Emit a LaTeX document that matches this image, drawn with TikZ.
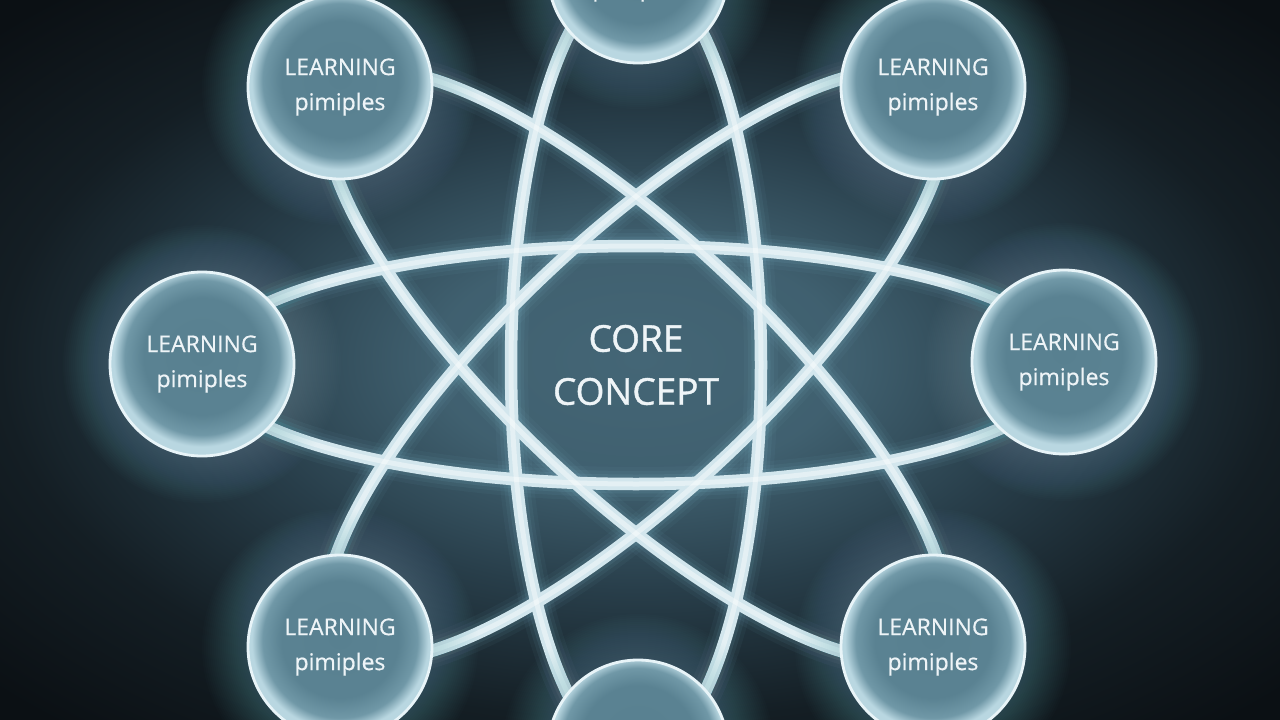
\documentclass[tikz,border=0pt]{standalone}
\usepackage{fontspec}
\setmainfont{Open Sans}
\usetikzlibrary{calc}
\definecolor{bgin}{RGB}{68,102,118}
\definecolor{bgmid}{RGB}{40,62,74}
\definecolor{bgedge}{RGB}{20,30,36}
\definecolor{bgout}{RGB}{11,16,20}
\definecolor{bandc}{RGB}{210,230,237}
\definecolor{glowc}{RGB}{130,190,210}
\definecolor{nodeA}{RGB}{88,128,144}
\definecolor{nodeB}{RGB}{112,152,167}
\definecolor{nodeC}{RGB}{185,215,225}
\definecolor{rimc}{RGB}{232,244,248}
\definecolor{textc}{RGB}{238,244,247}
\pgfdeclareradialshading{bgshade}{\pgfpoint{0bp}{0bp}}{color(0bp)=(bgin); color(8bp)=(bgin!85!bgmid); color(16bp)=(bgmid); color(25bp)=(bgedge); color(34bp)=(bgout); color(50bp)=(bgout)}
\pgfdeclareradialshading{nodeshade}{\pgfpoint{0bp}{3bp}}{color(0bp)=(nodeA); color(16bp)=(nodeA!90!nodeB); color(21bp)=(nodeB); color(24bp)=(nodeC); color(25bp)=(nodeC); color(50bp)=(nodeC)}
\tikzset{
  lnode/.style={circle, minimum size=184pt, inner sep=0pt, shading=nodeshade,
    draw=rimc, line width=2.8pt, text=textc, align=center,
    font=\fontsize{23}{35}\selectfont\addfontfeature{FakeBold=0.6}},
  bandglow/.style={draw=glowc, line width=#1},
  bandmain/.style={draw=bandc, line width=12.5pt},
  bandhi/.style={draw=white, line width=5pt, opacity=0.4}
}
\begin{document}
\begin{tikzpicture}[x=1pt,y=-1pt]
\useasboundingbox (0,0) rectangle (1280,720);
\clip (0,0) rectangle (1280,720);
\shade[shading=bgshade] (0,0) rectangle (1280,720);
\coordinate (c) at (636,365);
% orbits
\foreach \w/\o in {34pt/0.05, 26pt/0.07, 19pt/0.1}{
  \draw[bandglow=\w, opacity=\o] (c) ellipse [x radius=431pt, y radius=119pt];
  \draw[bandglow=\w, opacity=\o] (c) ellipse [x radius=125pt, y radius=392pt];
  \draw[bandglow=\w, opacity=\o] (c) circle [x radius=408pt, y radius=128pt, rotate=-43.2];
  \draw[bandglow=\w, opacity=\o] (c) circle [x radius=408pt, y radius=128pt, rotate=43.2];
}
\draw[bandmain] (c) ellipse [x radius=431pt, y radius=119pt];
\draw[bandmain] (c) ellipse [x radius=125pt, y radius=392pt];
\draw[bandmain] (c) circle [x radius=408pt, y radius=128pt, rotate=-43.2];
\draw[bandmain] (c) circle [x radius=408pt, y radius=128pt, rotate=43.2];
\draw[bandhi] (c) ellipse [x radius=431pt, y radius=119pt];
\draw[bandhi] (c) ellipse [x radius=125pt, y radius=392pt];
\draw[bandhi] (c) circle [x radius=408pt, y radius=128pt, rotate=-43.2];
\draw[bandhi] (c) circle [x radius=408pt, y radius=128pt, rotate=43.2];
% halos
\foreach \x/\y/\r in {340/87/92, 933/87/92, 202/364/93, 1064/362/93, 340/647/92, 933/647/92, 638/-27/90, 638/750/90}{
  \foreach \k in {46,44,...,2}{
    \fill[glowc, opacity=0.017] (\x,\y) circle [radius=\r pt+\k pt];
  }
}
% nodes
\node[lnode] (tl) at (340,87) {LEARNING\\pimiples};
\node[lnode] (tr) at (933,87) {LEARNING\\pimiples};
\node[lnode] (l) at (202,364) {LEARNING\\pimiples};
\node[lnode] (r) at (1064,362) {LEARNING\\pimiples};
\node[lnode] (bl) at (340,647) {LEARNING\\pimiples};
\node[lnode] (br) at (933,647) {LEARNING\\pimiples};
\node[lnode, minimum size=180pt] (t) at (638,-27) {LEARNING\\pimiples};
\node[lnode, minimum size=180pt] (b) at (638,750) {};
\node[text=textc, align=center, font=\fontsize{37}{53}\selectfont\addfontfeature{FakeBold=1}] (core) at (c) {CORE\\CONCEPT};
\end{tikzpicture}
\end{document}
